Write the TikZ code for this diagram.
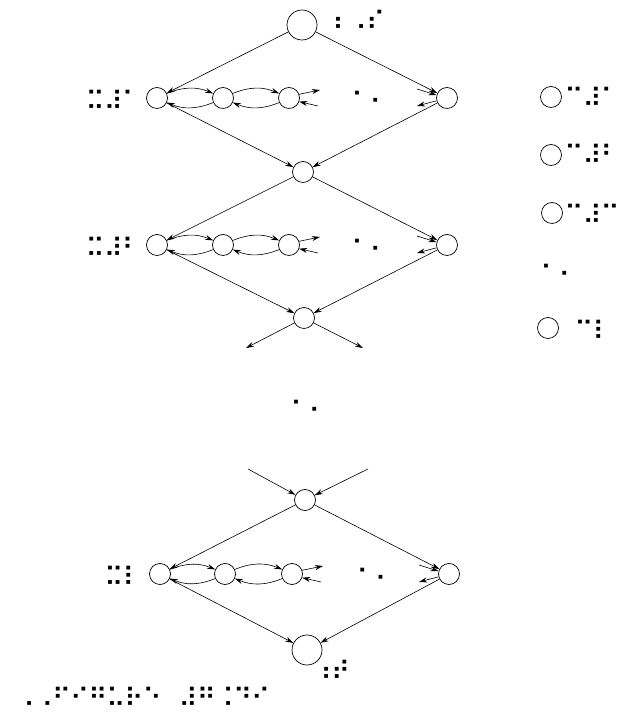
\documentclass[tikz,border=0pt]{standalone}
\usepackage{fontspec}
\newfontfamily\brfont{DejaVu Sans}
\usetikzlibrary{arrows.meta}
\def\brstr#1{\ifx#1\relax\else\makebox[18.1pt]{#1}\expandafter\brstr\fi}
\begin{document}
\begin{tikzpicture}[x=1pt,y=1pt,
  st/.style={circle,draw,line width=0.7pt,minimum size=21pt,inner sep=0pt},
  bigst/.style={st,minimum size=30pt},
  arr/.style={-{Stealth[length=8pt,width=5pt]},line width=0.6pt},
  brl/.style={anchor=base west,inner sep=0pt,font=\brfont\fontsize{26}{26}\selectfont}]
\useasboundingbox (0,0) rectangle (637,720);
% nodes
\node[bigst] (T) at (302,695) {};
\node[st] (A1) at (157,622) {};
\node[st] (B1) at (223,622) {};
\node[st] (C1) at (289,622) {};
\node[st] (D1) at (447,622) {};
\node[st] (M1) at (303,548) {};
\node[st] (A2) at (157,475) {};
\node[st] (B2) at (223,475) {};
\node[st] (C2) at (289,475) {};
\node[st] (D2) at (447,475) {};
\node[st] (M2) at (304,402) {};
\node[st] (M3) at (305,220) {};
\node[st] (A3) at (160,146) {};
\node[st] (B3) at (225,146) {};
\node[st] (C3) at (292,146) {};
\node[st] (D3) at (449,146) {};
\node[bigst] (Bt) at (307,70) {};
\node[st] (L1) at (551,623) {};
\node[st] (L2) at (551,565) {};
\node[st] (L3) at (552,507) {};
\node[st] (L5) at (548,392) {};
\coordinate (o1) at (246,372);
\coordinate (o2) at (363,372);
\coordinate (i1) at (248,251);
\coordinate (i2) at (368,251);
% main arrows
\draw[arr] (T) -- (A1);
\draw[arr] (T) -- (D1);
\draw[arr] (A1) -- (M1);
\draw[arr] (D1) -- (M1);
\draw[arr] (M1) -- (A2);
\draw[arr] (M1) -- (D2);
\draw[arr] (A2) -- (M2);
\draw[arr] (D2) -- (M2);
\draw[arr] (M2) -- (o1);
\draw[arr] (M2) -- (o2);
\draw[arr] (i1) -- (M3);
\draw[arr] (i2) -- (M3);
\draw[arr] (M3) -- (A3);
\draw[arr] (M3) -- (D3);
\draw[arr] (A3) -- (Bt);
\draw[arr] (D3) -- (Bt);
% chains
\foreach \r in {1,2,3}{
  \draw[arr] (A\r.25) to[bend left=22] (B\r.155);
  \draw[arr] (B\r.205) to[bend left=22] (A\r.335);
  \draw[arr] (B\r.25) to[bend left=22] (C\r.155);
  \draw[arr] (C\r.205) to[bend left=22] (B\r.335);
}
\coordinate (c1o) at (320,630); \coordinate (c1i) at (318,614);
\coordinate (d1i) at (417,631); \coordinate (d1o) at (417,614);
\coordinate (c2o) at (320,483); \coordinate (c2i) at (318,467);
\coordinate (d2i) at (417,484); \coordinate (d2o) at (417,467);
\coordinate (c3o) at (323,154); \coordinate (c3i) at (321,138);
\coordinate (d3i) at (419,155); \coordinate (d3o) at (419,138);
\foreach \r in {1,2,3}{
  \draw[arr] (C\r.20) -- (c\r o);
  \draw[arr] (c\r i) -- (C\r.-20);
  \draw[arr] (d\r i) -- (D\r.165);
  \draw[arr] (D\r.195) -- (d\r o);
}
% labels (braille text)
\node[brl] (lt) at (332.7,689.6) {\brstr ⠆\relax};
\node[brl] (lt2) at (348.2,689.6) {\brstr ⠠⠎\relax};
\node[brl] (lb) at (313.2,39.6) {\brstr ⠰⠞\relax};
\node[brl] (lx1) at (86.0,609.6) {\brstr ⠭⠼⠁\relax};
\node[brl] (lx2) at (86.0,462.3) {\brstr ⠭⠼⠃\relax};
\node[brl] (lx3) at (104.7,133.6) {\brstr ⠭⠇\relax};
\node[brl] (e1) at (351.7,608.3) {\brstr ⠁⠂\relax};
\node[brl] (e2) at (351.7,460.9) {\brstr ⠁⠂\relax};
\node[brl] (e3) at (357.0,131.3) {\brstr ⠁⠂\relax};
\node[brl] (em) at (290.7,299.4) {\brstr ⠁⠂\relax};
\node[brl] (el) at (540.7,435.4) {\brstr ⠁⠂\relax};
\node[brl] (t1) at (564.7,612.6) {\brstr ⠉⠼⠁\relax};
\node[brl] (t2) at (564.7,555.3) {\brstr ⠉⠼⠃\relax};
\node[brl] (t3) at (564.7,495.3) {\brstr ⠉⠼⠉\relax};
\node[brl] (t5) at (574.7,379.1) {\brstr ⠉⠇\relax};
\node[brl] (cap) at (16.2,12.1) {\brstr ⠠⠠⠋⠊⠛⠥⠗⠑⠀⠼⠛⠨⠙⠊\relax};
\end{tikzpicture}
\end{document}
